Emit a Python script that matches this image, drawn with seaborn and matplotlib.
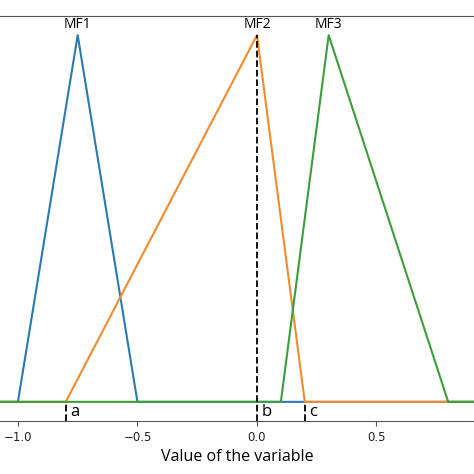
import matplotlib
matplotlib.use('Agg')
import matplotlib.pyplot as plt
import seaborn as sb
import pandas as pd

sb.set_style('white')

# breakpoints of each membership function (x, membership)
mf1_x = [-1.1, -1.0, -0.75, -0.5, 0.95]
mf1_y = [0, 0, 1, 0, 0]
mf2_x = [-1.1, -0.8, 0.0, 0.2, 0.95]
mf2_y = [0, 0, 1, 0, 0]
mf3_x = [-1.1, 0.1, 0.3, 0.8, 0.95]
mf3_y = [0, 0, 1, 0, 0]
mf_names = ['MF1', 'MF2', 'MF3']
mf_peaks = [-0.75, 0.0, 0.3]
marks = ['a', 'b', 'c']
mark_x = [-0.8, 0.0, 0.2]
mark_top = [0, 1, 0]

fig = plt.figure(figsize=(4.74, 4.74), dpi=100)
ax = fig.add_axes([0, 0.112, 1, 0.854])

colors = ['#2a7ab0', '#f28a2e', '#3a9e3a']
for xs, ys, c in zip([mf1_x, mf2_x, mf3_x], [mf1_y, mf2_y, mf3_y], colors):
    df = pd.DataFrame({'x': xs, 'y': ys})
    sb.lineplot(data=df, x='x', y='y', color=c, lw=1.5, ax=ax, sort=False)

ax.set_xlim(-1.075, 0.908)
ax.set_ylim(-0.052, 1.052)
bottom = ax.get_ylim()[0]

for name, px in zip(mf_names, mf_peaks):
    ax.text(px, 1.01, name, ha='center', va='bottom', fontsize=10, color='black',
            family='Open Sans')

for m, mx, top in zip(marks, mark_x, mark_top):
    ax.plot([mx, mx], [bottom, top], color='black', ls='--', lw=1.3)
    ax.text(mx + 0.018, -0.027, m, ha='left', va='center', fontsize=12, color='black',
            family='Open Sans')

ax.set_yticks([])
ax.set_xticks([-1.0, -0.5, 0.0, 0.5])
ax.tick_params(axis='x', labelsize=8.5, length=3.5, bottom=True, color='#555555', labelcolor='#222222')
ax.set_xlabel('Value of the variable', fontsize=11.5, family='Open Sans', color='black')
ax.set_ylabel('')
for s in ['top', 'bottom']:
    ax.spines[s].set_color('#555555')
ax.spines['left'].set_visible(False)
ax.spines['right'].set_visible(False)

plt.savefig('out.png', dpi=100)
plt.close(fig)
